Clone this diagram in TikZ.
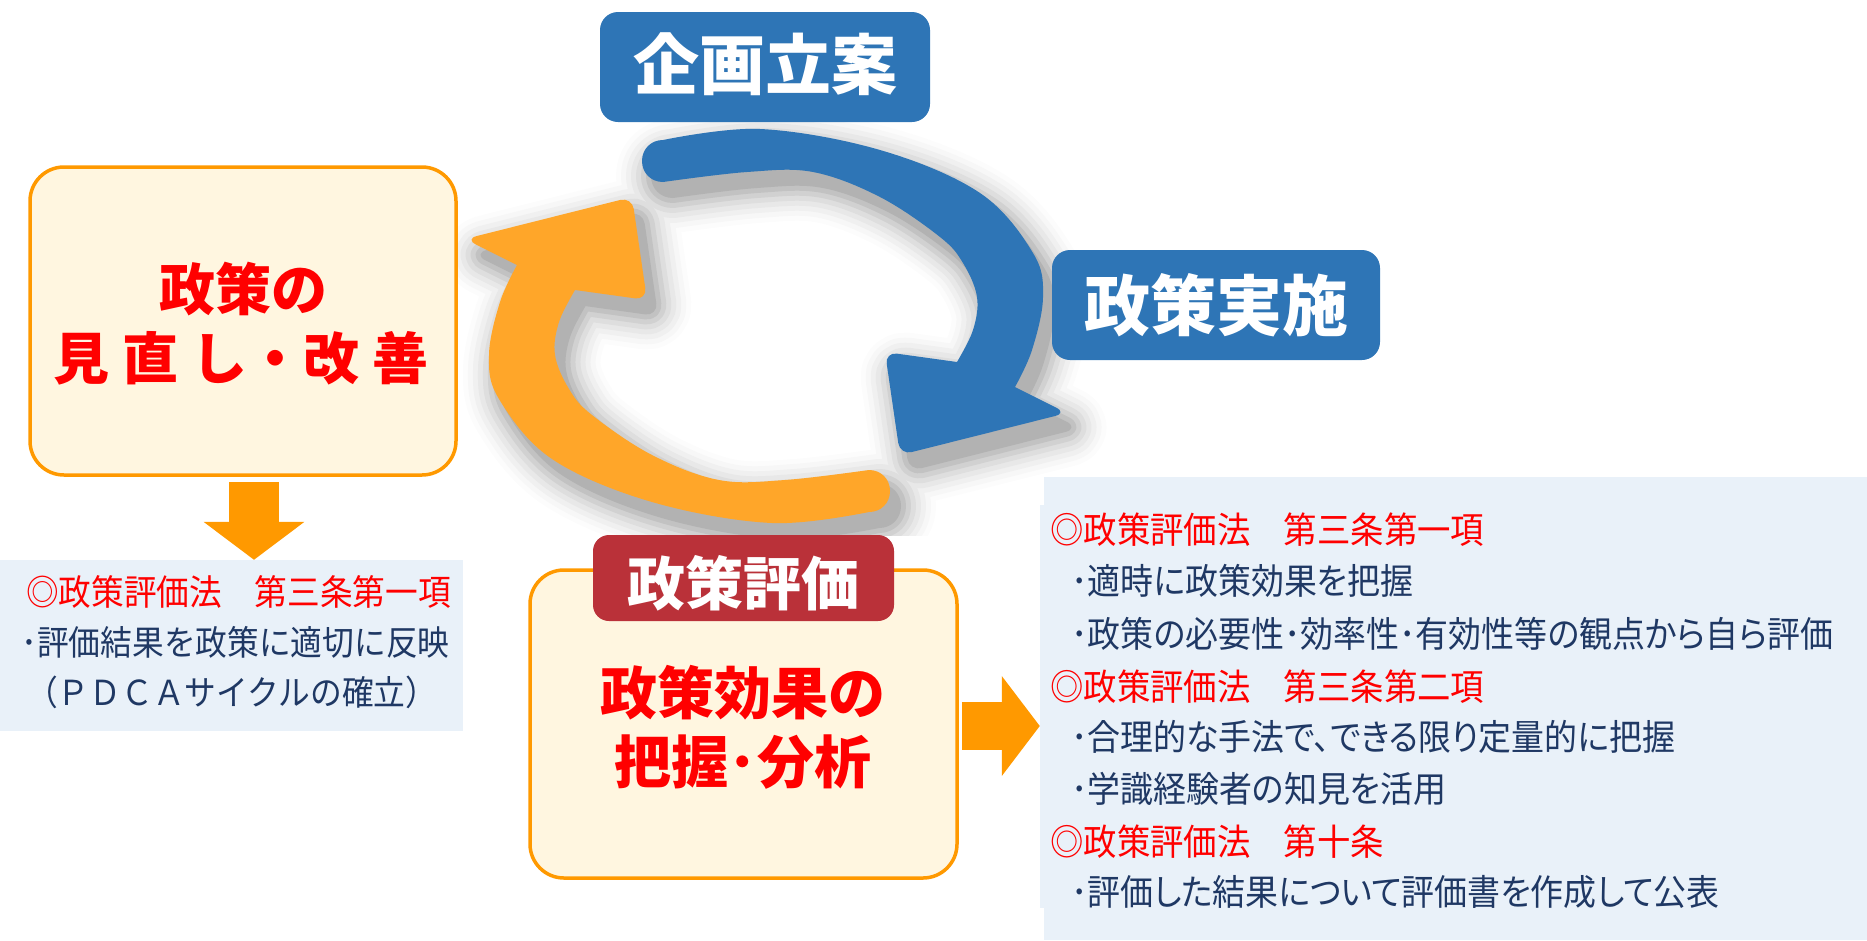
\documentclass[tikz,border=0pt]{standalone}
\usepackage{fontspec}
\setmainfont{Noto Sans CJK JP}
\newfontfamily\jp{Noto Sans CJK JP}
\newfontfamily\jpnar{Noto Sans CJK JP}[FakeStretch=0.92]
\newfontfamily\jpnarp{Noto Sans CJK JP}[FakeStretch=0.92,RawFeature=+palt]
\usetikzlibrary{calc,arrows.meta}
\definecolor{cblue}{HTML}{2E75B6}
\definecolor{corange}{HTML}{FFA629}
\definecolor{carrow}{HTML}{FF9900}
\definecolor{cborder}{HTML}{FF9900}
\definecolor{ccream}{HTML}{FFF6E0}
\definecolor{ctab}{HTML}{BA3139}
\definecolor{cpanel}{HTML}{E9F1F9}
\definecolor{cnavy}{HTML}{1F3864}
\definecolor{cred}{HTML}{FF0000}
\tikzset{
  creambox/.style={draw=cborder, line width=3.5pt, fill=ccream, rounded corners=34pt, inner sep=0pt},
  bluebox/.style={fill=cblue, rounded corners=18pt, inner sep=0pt, text=white,
    font=\jp\bfseries\fontsize{66}{70}\selectfont},
  tabbox/.style={fill=ctab, rounded corners=16pt, inner sep=0pt, text=white,
    font=\jp\bfseries\fontsize{58}{62}\selectfont, text height=58pt, text depth=4pt},
  panel/.style={fill=cpanel, inner sep=0pt},
  redtxt/.style={text=cred, inner sep=0pt, anchor=base},
  lhead/.style={anchor=base west, inner sep=0pt, text=cred, font=\jpnar\fontsize{35.5}{40}\selectfont},
  lbody/.style={anchor=base west, inner sep=0pt, text=cnavy, font=\jpnar\fontsize{34.5}{40}\selectfont},
  rhead/.style={anchor=base west, inner sep=0pt, text=cred, font=\jpnar\fontsize{36.3}{40}\selectfont},
  rbody/.style={anchor=base west, inner sep=0pt, text=cnavy, font=\jpnarp\fontsize{35.8}{40}\selectfont},
  blockarrow/.style={draw=carrow, line cap=butt}
}
\begin{document}
\begin{tikzpicture}[x=1pt,y=-1pt]
\useasboundingbox (0,0) rectangle (1867,940);
\def\bandshape{(663,182) .. controls (651,182) and (642,173) .. (642,161) .. controls (642,149) and (651,140) .. (663,140)
  -- plot[smooth, tension=0.6] coordinates {(663,140) (760,129) (880,150) (980,193) (1033,253) (1043,297) (1032,350) (1015,387)}
  [rounded corners=12pt] -- (1067,413) -- (900,455) -- (885,352) [sharp corners] -- (957,362)
  -- plot[smooth, tension=0.6] coordinates {(957,362) (973,330) (977,297) (963,263) (940,237) (880,197) (813,172) (747,172) (663,182)}
  -- cycle}
% soft shadows of the cycle arrows
\begin{scope}
\clip (0,0) rectangle (1867,535);
\foreach \w/\c in {72/1,62/3,52/6,42/9,32/13,22/18,12/24,2/30} {
  \filldraw[fill=black!\c, draw=black!\c, line width=\w pt, line join=round, shift={(10,15)}] \bandshape;
  \filldraw[fill=black!\c, draw=black!\c, line width=\w pt, line join=round, shift={(10,15)}, rotate around={180:(766,326)}] \bandshape;
}
\end{scope}
% cycle arrows
\fill[cblue] \bandshape;
\fill[corange, rotate around={180:(766,326)}] \bandshape;

% boxes
\node[bluebox, minimum width=330pt, minimum height=110pt, text height=56pt, text depth=12pt] (plan) at (765,67) {企画立案};
\node[bluebox, minimum width=328pt, minimum height=110pt, text height=58pt, text depth=8pt] (impl) at (1216,305) {政策実施};

\node[creambox, minimum width=426pt, minimum height=308pt] (review) at (243,321) {};
\node[redtxt, font=\jp\bfseries\fontsize{56}{60}\selectfont] (review1) at (243,310) {政策の};
\node[redtxt, font=\jp\bfseries\fontsize{56}{60}\selectfont] (review2) at (241,379) {見 直 し・改 善};

\node[creambox, minimum width=427pt, minimum height=308pt] (eval) at (743.5,724) {};
\node[tabbox, minimum width=301pt, minimum height=86pt] (tab) at (743.5,578) {政策評価};
\node[redtxt, font=\jp\bfseries\fontsize{57}{60}\selectfont] (eval1) at (743,714) {政策効果の};
\node[redtxt, font=\jp\bfseries\fontsize{57}{60}\selectfont] (eval2) at (743,783) {把握･分析};

% panels
\node[panel, minimum width=463pt, minimum height=171pt] (lpanel) at (231.5,645.5) {};
\node[panel, minimum width=823pt, minimum height=463pt] (rpanel) at (1455.5,708.5) {};
\node[panel, minimum width=827pt, minimum height=403pt] (rpanelb) at (1453.5,706.5) {};

\node[lhead] (l1) at (26,605) {◎政策評価法　第三条第一項};
\node[lbody] (l2) at (21,655.5) {･評価結果を政策に適切に反映};
\node[lbody] (l3) at (26,705.5) {（ＰＤＣＡサイクルの確立）};

\node[rhead] (r1) at (1050,543) {◎政策評価法　第三条第一項};
\node[rbody] (r2) at (1071,594.5) {･適時に政策効果を把握};
\node[rbody] (r3) at (1071,647.5) {･政策の必要性･効率性･有効性等の観点から自ら評価};
\node[rhead] (r4) at (1050,700) {◎政策評価法　第三条第二項};
\node[rbody] (r5) at (1071,750.5) {･合理的な手法で、できる限り定量的に把握};
\node[rbody] (r6) at (1071,802.5) {･学識経験者の知見を活用};
\node[rhead] (r7) at (1050,855) {◎政策評価法　第十条};
\node[rbody] (r8) at (1071,905.5) {･評価した結果について評価書を作成して公表};

% block arrows
\coordinate (dtop) at ($(review.south)+(11,5)$);
\draw[blockarrow, line width=50pt, -{Triangle[length=38pt, width=99pt]}] (dtop) -- (dtop |- lpanel.north);
\coordinate (rstart) at ($(eval.east)+(3,2)$);
\draw[blockarrow, line width=48pt, -{Triangle[length=38pt, width=98pt]}] (rstart) -- (rstart -| rpanelb.west);
\end{tikzpicture}
\end{document}
